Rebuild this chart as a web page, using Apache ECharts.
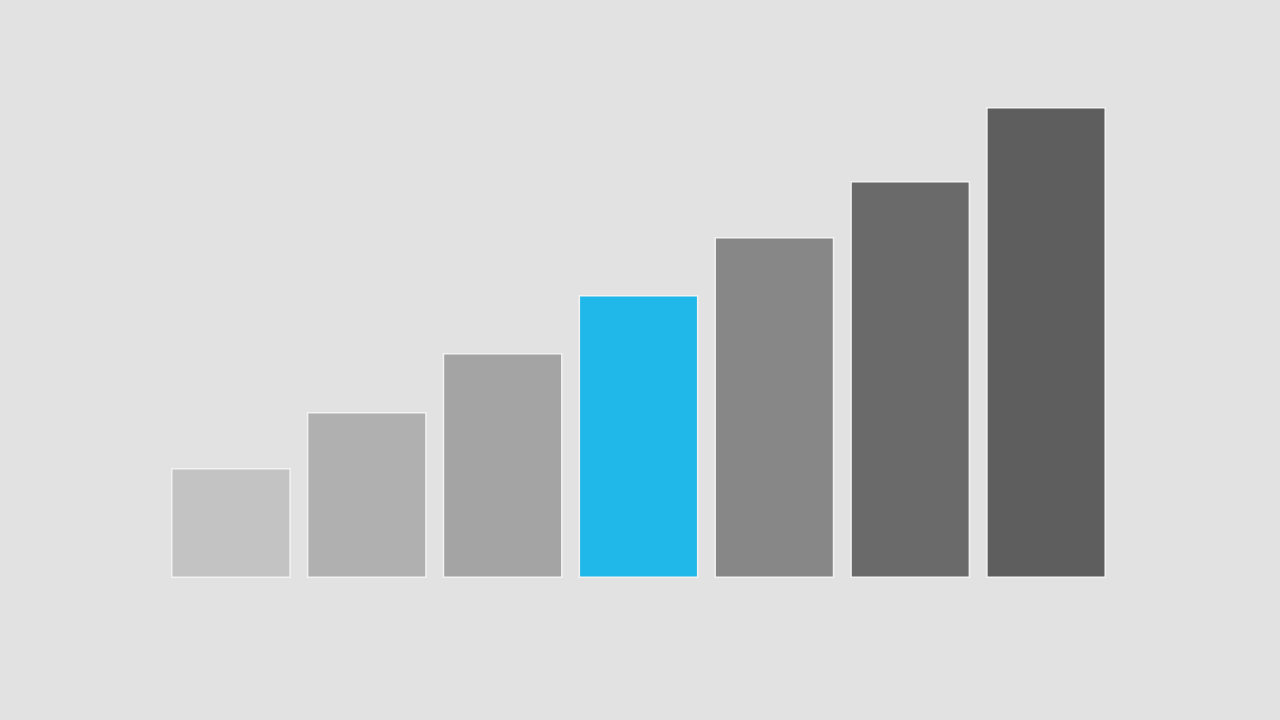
<!DOCTYPE html>
<html><head><meta charset="utf-8">
<script src="https://cdn.jsdelivr.net/npm/echarts@6/dist/echarts.min.js"></script>
<style>html,body{margin:0;padding:0;background:#e2e2e2}#c{width:1280px;height:720px}</style>
</head><body><div id="c"></div>
<script>
const categories = ['1','2','3','4','5','6','7'];
const values = [110, 166, 225, 283, 341, 397, 471];
const colors = ['#c3c3c3','#b0b0b0','#a4a4a4','#1fb8e8','#878787','#6a6a6a','#5e5e5e'];

const chart = echarts.init(document.getElementById('c'));
chart.setOption({
  backgroundColor: '#e2e2e2',
  animation: false,
  grid: { left: 163, right: 166, top: 77, bottom: 142 },
  xAxis: { type: 'category', data: categories, show: false },
  yAxis: { type: 'value', min: 0, max: 501, show: false },
  series: [{
    type: 'bar',
    barCategoryGap: '11.8%',
    data: values.map((v, i) => ({ value: v, itemStyle: { color: colors[i] } })),
    itemStyle: { borderColor: '#f2f2f2', borderWidth: 1.5 }
  }]
});
</script></body></html>
